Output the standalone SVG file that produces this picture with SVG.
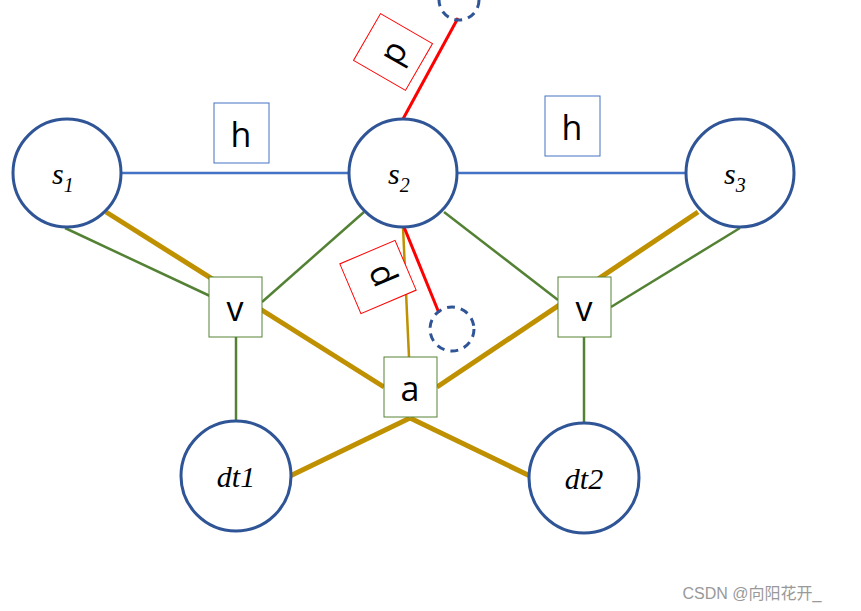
<svg xmlns="http://www.w3.org/2000/svg" width="861" height="611" viewBox="0 0 861 611">
<style>
.n{fill:#fff;stroke:#2f5597;stroke-width:3}
.d{fill:none;stroke:#2f5597;stroke-width:3;stroke-dasharray:8 6}
.m{font-family:"Liberation Serif",serif;font-style:italic;font-size:30px;fill:#000}
.sub{font-size:20px}
.t{font-family:"Open Sans","DejaVu Sans",sans-serif;font-size:34px;fill:#000;text-anchor:middle}
.hb{fill:#fff;stroke:#4472c4;stroke-width:1}
.gb{fill:#fff;stroke:#548235;stroke-width:1}
.rb{fill:#fff;stroke:#ff0000;stroke-width:1}
.bl{stroke:#4472c4;stroke-width:2.5}
.gr{stroke:#548235;stroke-width:2.5}
.au{stroke:#bf9000;stroke-width:5}
.au2{stroke:#bf9000;stroke-width:2.5}
.rd{stroke:#ff0000;stroke-width:3}
</style>
<rect width="861" height="611" fill="#fff"/>
<g id="connectors">
<line class="bl" x1="121" y1="173" x2="349" y2="173"/>
<line class="bl" x1="457" y1="173" x2="686" y2="173"/>
<line class="gr" x1="65" y1="228" x2="210" y2="296"/>
<line class="gr" x1="364" y1="212" x2="262" y2="302"/>
<line class="gr" x1="236" y1="337" x2="236" y2="421"/>
<line class="gr" x1="444" y1="212" x2="558" y2="300"/>
<line class="gr" x1="740" y1="228" x2="611" y2="307"/>
<line class="gr" x1="584" y1="337" x2="584" y2="423"/>
<line class="au" x1="106" y1="212" x2="384" y2="387"/>
<line class="au" x1="698" y1="212" x2="437" y2="387"/>
<line class="au" x1="410" y1="418" x2="290" y2="476"/>
<line class="au" x1="410" y1="418" x2="530" y2="476"/>
<line class="au2" x1="403" y1="227" x2="409" y2="357"/>
<line class="rd" x1="403" y1="119" x2="458" y2="18"/>
<line class="rd" x1="404" y1="227" x2="439" y2="313"/>
</g>
<g id="s1"><circle class="n" cx="67" cy="173" r="54"/><text class="m" x="52" y="184">s<tspan class="sub" dy="8">1</tspan></text></g>
<g id="s2"><circle class="n" cx="403" cy="173" r="54"/><text class="m" x="388" y="184">s<tspan class="sub" dy="8">2</tspan></text></g>
<g id="s3"><circle class="n" cx="740" cy="173" r="54"/><text class="m" x="724" y="184">s<tspan class="sub" dy="8">3</tspan></text></g>
<g id="dt1"><circle class="n" cx="236" cy="476" r="55"/><text class="m" x="236" y="487" text-anchor="middle">dt1</text></g>
<g id="dt2"><circle class="n" cx="584" cy="478" r="55"/><text class="m" x="584" y="489" text-anchor="middle">dt2</text></g>
<g id="c1"><circle class="d" cx="459" cy="0" r="20"/></g>
<g id="c2"><circle class="d" cx="452" cy="329" r="22"/></g>
<g id="h1"><rect class="hb" x="214" y="103" width="55" height="60"/><text class="t" x="241" y="147">h</text></g>
<g id="h2"><rect class="hb" x="545" y="96" width="55" height="60"/><text class="t" x="572" y="140">h</text></g>
<g id="v1"><rect class="gb" x="209" y="277" width="53" height="60"/><text class="t" x="235" y="321">v</text></g>
<g id="v2"><rect class="gb" x="558" y="277" width="53" height="60"/><text class="t" x="584" y="321">v</text></g>
<g id="a"><rect class="gb" x="384" y="357" width="53" height="60"/><text class="t" x="410" y="401">a</text></g>
<g id="p1" transform="translate(393,52) rotate(30)"><rect class="rb" x="-30" y="-27" width="60" height="54"/><text class="t" transform="rotate(-90)" x="0" y="12">p</text></g>
<g id="p2" transform="translate(378,277) rotate(-23)"><rect class="rb" x="-30" y="-27" width="60" height="54"/><text class="t" transform="rotate(-90)" x="0" y="12">p</text></g>
<text x="752" y="599" font-family="'Liberation Sans','Noto Sans CJK SC',sans-serif" font-size="16" fill="#999" text-anchor="middle">CSDN @向阳花开_</text>
</svg>
